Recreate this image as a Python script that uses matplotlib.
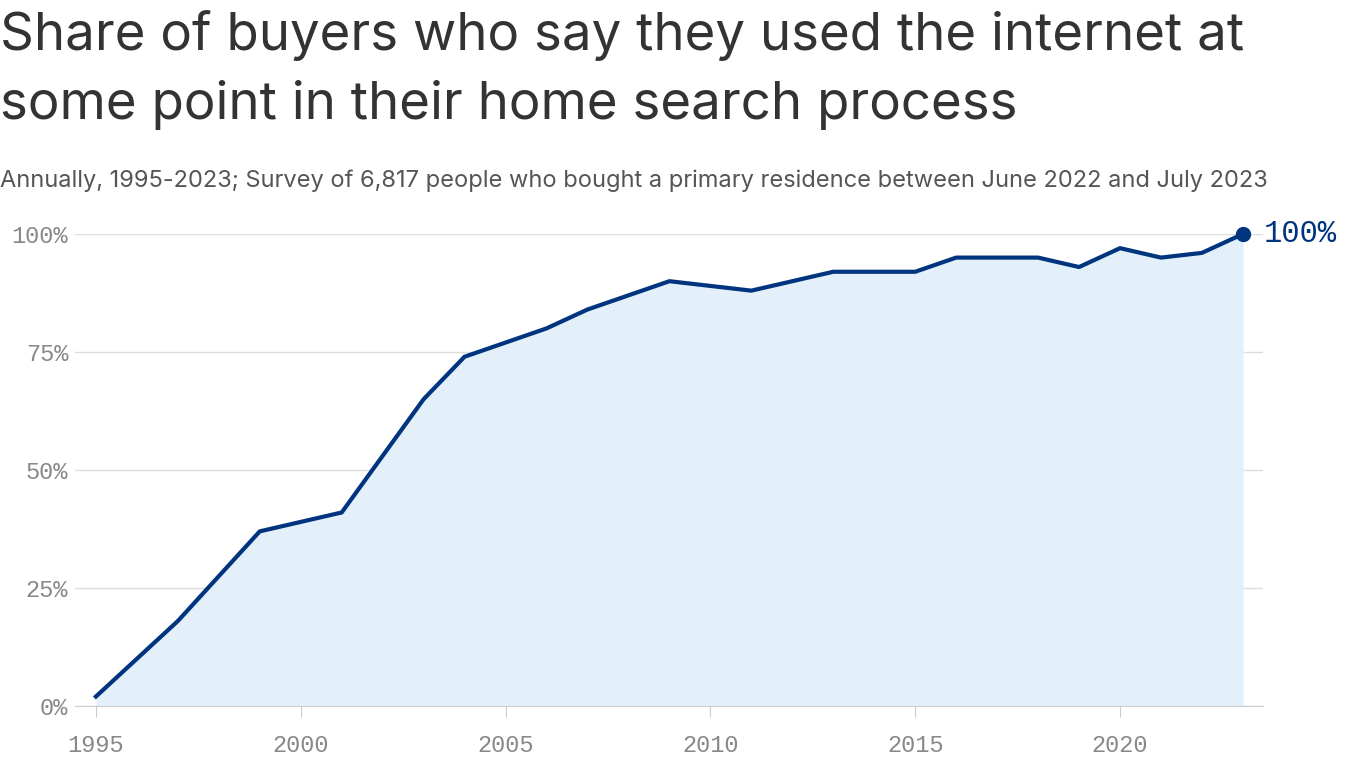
import matplotlib.pyplot as plt

years = [1995, 1997, 1999, 2001, 2003, 2004, 2006, 2007, 2009, 2011, 2013, 2015,
         2016, 2018, 2019, 2020, 2021, 2022, 2023]
share = [2, 18, 37, 41, 65, 74, 80, 84, 90, 88, 92, 92, 95, 95, 93, 97, 95, 96, 100]
yticks = [0, 25, 50, 75, 100]
xticks = [1995, 2000, 2005, 2010, 2015, 2020]

line_c = '#00347f'
fill_c = '#e3f0fa'
mono = 'Liberation Mono'

fig = plt.figure(figsize=(13.66, 7.68), dpi=100)
ax = fig.add_axes([75/1366, 1-706/768, (1263-75)/1366, (706-234)/768])

ax.fill_between(years, share, 0, color=fill_c, lw=0)
ax.plot(years, share, color=line_c, lw=3, solid_joinstyle='round', clip_on=False)
ax.plot(years[-1], share[-1], 'o', color=line_c, ms=10, clip_on=False)
ax.text(years[-1] + 0.5, share[-1], f'{share[-1]}%', color=line_c, fontsize=22,
        family=mono, va='center', ha='left')

ax.set_xlim(1994.49, 2023.49)
ax.set_ylim(0, 100)
ax.set_yticks(yticks)
ax.set_yticklabels([f'{t}%' for t in yticks])
ax.set_xticks(xticks)
ax.grid(axis='y', color='#dddddd', lw=1)
ax.set_axisbelow(True)
for s in ['top', 'right', 'left']:
    ax.spines[s].set_visible(False)
ax.spines['bottom'].set_color('#cccccc')
ax.tick_params(axis='y', length=0, pad=5, labelsize=17, labelcolor='#888888')
ax.tick_params(axis='x', length=8, color='#cccccc', pad=12, labelsize=17, labelcolor='#888888')
for lab in ax.get_xticklabels() + ax.get_yticklabels():
    lab.set_family(mono)

fig.text(0.0, 1-70/768, 'Share of buyers who say they used the internet at\nsome point in their home search process',
         fontsize=38, color='#333333', family='Inter', va='center', ha='left', linespacing=1.5)
fig.text(0.0, 1-181/768, 'Annually, 1995-2023; Survey of 6,817 people who bought a primary residence between June 2022 and July 2023',
         fontsize=17, color='#555555', family='Inter', va='center', ha='left')

fig.savefig('out.png', dpi=100)
